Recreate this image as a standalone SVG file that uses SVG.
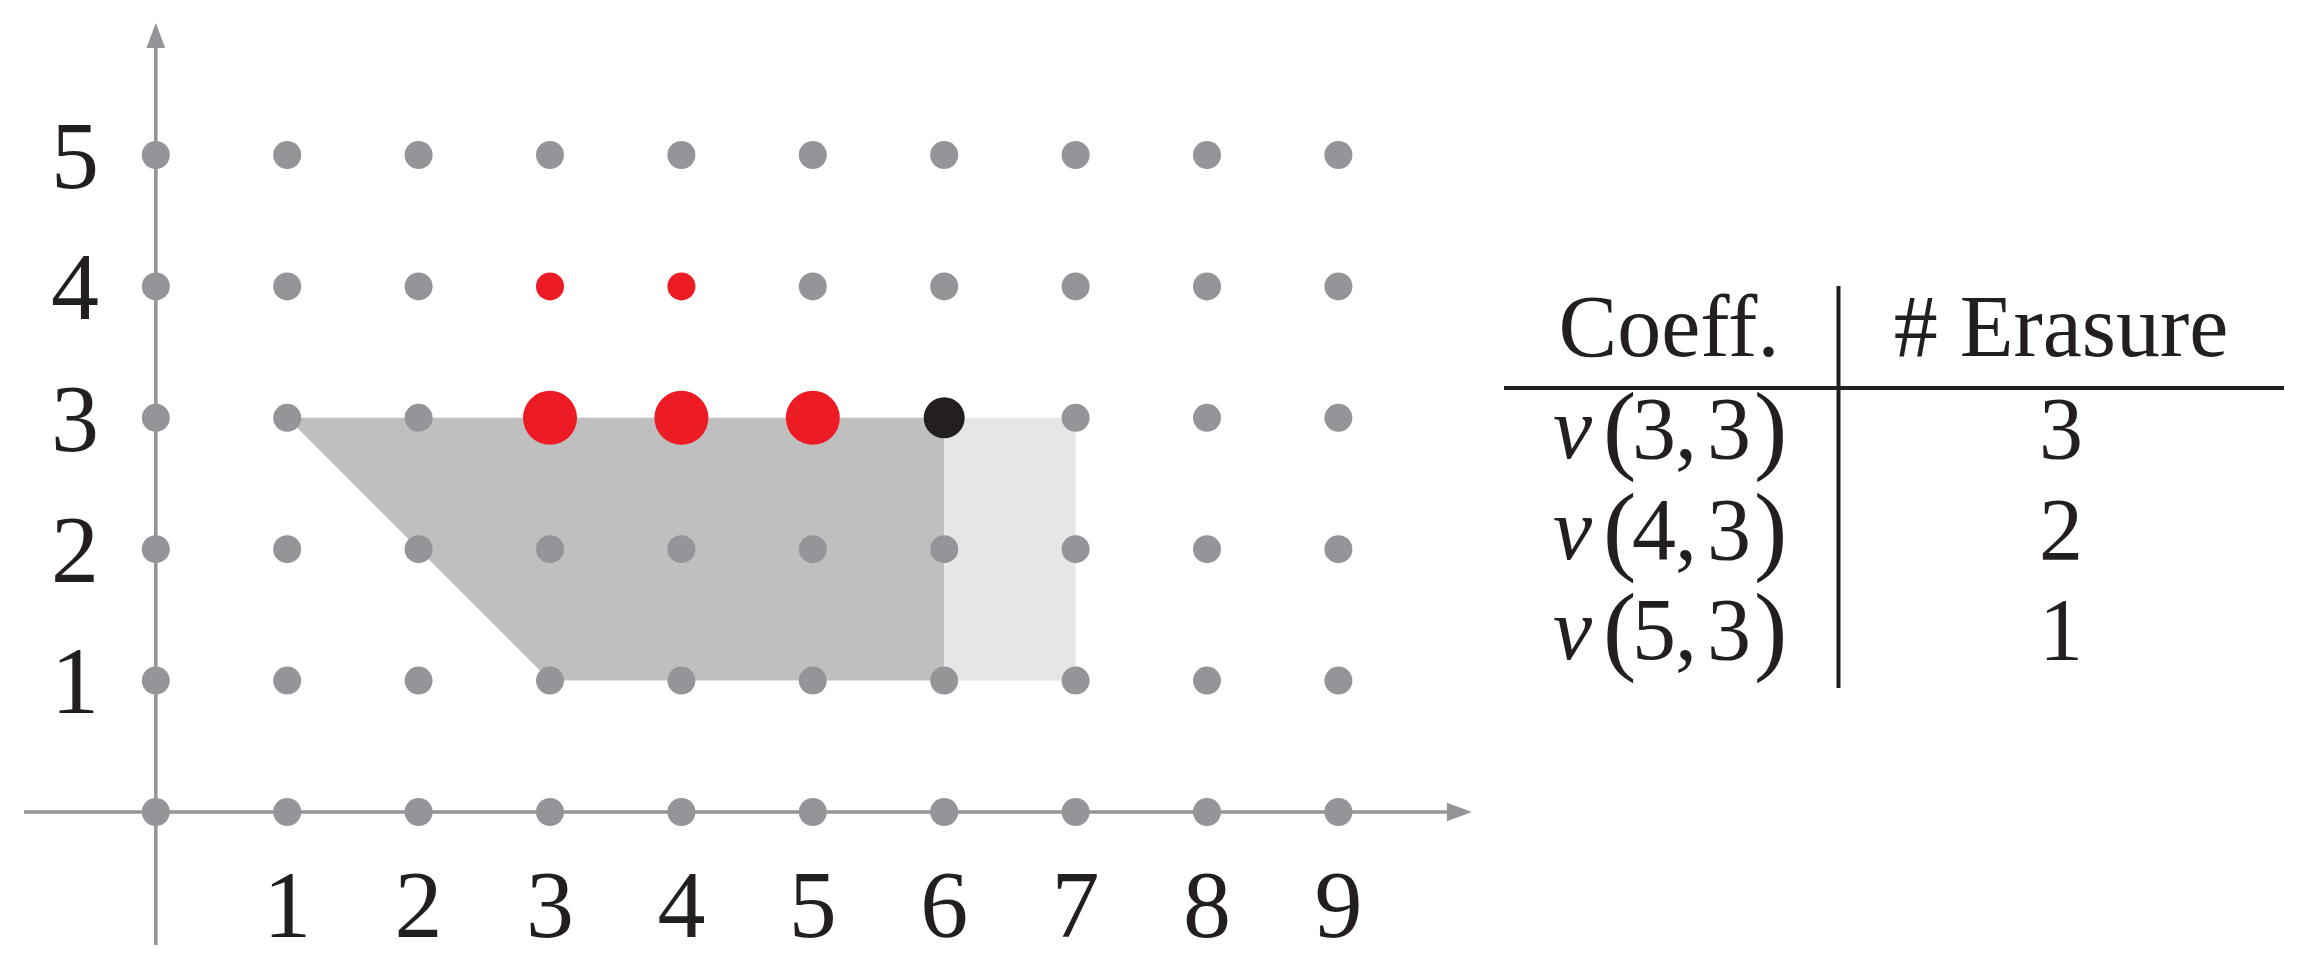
<svg xmlns="http://www.w3.org/2000/svg" width="2303" height="968" viewBox="0 0 2303 968">
<style>
.dot{fill:#939598}
.red{fill:#ed1c24}
.blk{fill:#231f20}
.axis{stroke:#939598;stroke-width:3.6;fill:none}
.ah{fill:#939598}
.lbl{font-family:"Liberation Serif","Times New Roman",serif;font-size:96px;fill:#231f20;text-anchor:middle}
.tb{font-family:"Liberation Serif","Times New Roman",serif;font-size:88px;fill:#231f20}
.tbm{text-anchor:middle}
.par{font-size:100px}
.it{font-style:italic}
.rule{stroke:#231f20;stroke-width:4}
</style>
<rect width="2303" height="968" fill="#ffffff"/>
<g id="region">
<polygon points="287.2,417.8 944.2,417.8 944.2,680.6 550,680.6" fill="#bfbfbf"/>
<rect x="944.2" y="417.8" width="131.4" height="262.8" fill="#e6e6e6"/>
</g>
<g id="axes">
<line class="axis" x1="155.8" y1="945" x2="155.8" y2="46"/>
<polygon class="ah" points="155.8,23 146.4,48 165.2,48"/>
<line class="axis" x1="24" y1="812" x2="1449" y2="812"/>
<polygon class="ah" points="1472,812 1447,802.8 1447,821.2"/>
</g>
<g id="grid">
<circle class="dot" cx="155.8" cy="812" r="14"/><circle class="dot" cx="287.2" cy="812" r="14"/><circle class="dot" cx="418.6" cy="812" r="14"/><circle class="dot" cx="550" cy="812" r="14"/><circle class="dot" cx="681.4" cy="812" r="14"/><circle class="dot" cx="812.8" cy="812" r="14"/><circle class="dot" cx="944.2" cy="812" r="14"/><circle class="dot" cx="1075.6" cy="812" r="14"/><circle class="dot" cx="1207" cy="812" r="14"/><circle class="dot" cx="1338.4" cy="812" r="14"/>
<circle class="dot" cx="155.8" cy="680.6" r="14"/><circle class="dot" cx="287.2" cy="680.6" r="14"/><circle class="dot" cx="418.6" cy="680.6" r="14"/><circle class="dot" cx="550" cy="680.6" r="14"/><circle class="dot" cx="681.4" cy="680.6" r="14"/><circle class="dot" cx="812.8" cy="680.6" r="14"/><circle class="dot" cx="944.2" cy="680.6" r="14"/><circle class="dot" cx="1075.6" cy="680.6" r="14"/><circle class="dot" cx="1207" cy="680.6" r="14"/><circle class="dot" cx="1338.4" cy="680.6" r="14"/>
<circle class="dot" cx="155.8" cy="549.2" r="14"/><circle class="dot" cx="287.2" cy="549.2" r="14"/><circle class="dot" cx="418.6" cy="549.2" r="14"/><circle class="dot" cx="550" cy="549.2" r="14"/><circle class="dot" cx="681.4" cy="549.2" r="14"/><circle class="dot" cx="812.8" cy="549.2" r="14"/><circle class="dot" cx="944.2" cy="549.2" r="14"/><circle class="dot" cx="1075.6" cy="549.2" r="14"/><circle class="dot" cx="1207" cy="549.2" r="14"/><circle class="dot" cx="1338.4" cy="549.2" r="14"/>
<circle class="dot" cx="155.8" cy="417.8" r="14"/><circle class="dot" cx="287.2" cy="417.8" r="14"/><circle class="dot" cx="418.6" cy="417.8" r="14"/><circle class="dot" cx="1075.6" cy="417.8" r="14"/><circle class="dot" cx="1207" cy="417.8" r="14"/><circle class="dot" cx="1338.4" cy="417.8" r="14"/>
<circle class="dot" cx="155.8" cy="286.4" r="14"/><circle class="dot" cx="287.2" cy="286.4" r="14"/><circle class="dot" cx="418.6" cy="286.4" r="14"/><circle class="dot" cx="812.8" cy="286.4" r="14"/><circle class="dot" cx="944.2" cy="286.4" r="14"/><circle class="dot" cx="1075.6" cy="286.4" r="14"/><circle class="dot" cx="1207" cy="286.4" r="14"/><circle class="dot" cx="1338.4" cy="286.4" r="14"/>
<circle class="dot" cx="155.8" cy="155" r="14"/><circle class="dot" cx="287.2" cy="155" r="14"/><circle class="dot" cx="418.6" cy="155" r="14"/><circle class="dot" cx="550" cy="155" r="14"/><circle class="dot" cx="681.4" cy="155" r="14"/><circle class="dot" cx="812.8" cy="155" r="14"/><circle class="dot" cx="944.2" cy="155" r="14"/><circle class="dot" cx="1075.6" cy="155" r="14"/><circle class="dot" cx="1207" cy="155" r="14"/><circle class="dot" cx="1338.4" cy="155" r="14"/>
</g>
<g id="highlight">
<circle class="red" cx="550" cy="286.4" r="14"/>
<circle class="red" cx="681.4" cy="286.4" r="14"/>
<circle class="red" cx="550" cy="417.8" r="27"/>
<circle class="red" cx="681.4" cy="417.8" r="27"/>
<circle class="red" cx="812.8" cy="417.8" r="27"/>
<circle class="blk" cx="944.2" cy="417.8" r="20.5"/>
</g>
<g id="xlabels">
<text class="lbl" x="287.2" y="937">1</text><text class="lbl" x="418.6" y="937">2</text><text class="lbl" x="550" y="937">3</text><text class="lbl" x="681.4" y="937">4</text><text class="lbl" x="812.8" y="937">5</text><text class="lbl" x="944.2" y="937">6</text><text class="lbl" x="1075.6" y="937">7</text><text class="lbl" x="1207" y="937">8</text><text class="lbl" x="1338.4" y="937">9</text>
</g>
<g id="ylabels">
<text class="lbl" x="75" y="713">1</text><text class="lbl" x="75" y="582">2</text><text class="lbl" x="75" y="451">3</text><text class="lbl" x="75" y="319">4</text><text class="lbl" x="75" y="188">5</text>
</g>
<g id="table">
<line class="rule" x1="1838.5" y1="286" x2="1838.5" y2="688"/>
<line class="rule" x1="1504" y1="388" x2="2284" y2="388"/>
<text class="tb tbm" x="1669" y="356">Coeff.</text>
<text class="tb tbm" x="2061" y="356"># Erasure</text>
<text class="tb" y="458"><tspan class="it" x="1553">v</tspan><tspan class="par" x="1603" dy="3">(</tspan><tspan x="1632" dy="-3">3</tspan><tspan x="1675">,</tspan><tspan x="1707">3</tspan><tspan class="par" x="1754" dy="3">)</tspan></text>
<text class="tb" y="558.5"><tspan class="it" x="1553">v</tspan><tspan class="par" x="1603" dy="3">(</tspan><tspan x="1632" dy="-3">4</tspan><tspan x="1675">,</tspan><tspan x="1707">3</tspan><tspan class="par" x="1754" dy="3">)</tspan></text>
<text class="tb" y="659"><tspan class="it" x="1553">v</tspan><tspan class="par" x="1603" dy="3">(</tspan><tspan x="1632" dy="-3">5</tspan><tspan x="1675">,</tspan><tspan x="1707">3</tspan><tspan class="par" x="1754" dy="3">)</tspan></text>
<text class="tb tbm" x="2061" y="458">3</text>
<text class="tb tbm" x="2061" y="558.5">2</text>
<text class="tb tbm" x="2061" y="659">1</text>
</g>
</svg>
